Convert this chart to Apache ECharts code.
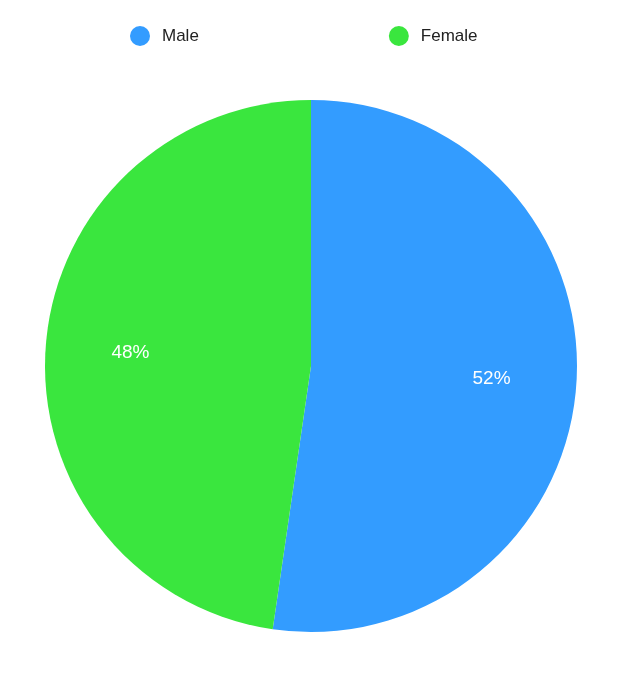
<!DOCTYPE html>
<html>
<head>
<meta charset="utf-8">
<script src="https://cdn.jsdelivr.net/npm/echarts@6/dist/echarts.min.js"></script>
<style>
  html, body { margin: 0; padding: 0; background: #fff; }
  #main { width: 617px; height: 673px; }
</style>
</head>
<body>
<div id="main"></div>
<script>
var names = ['Male', 'Female'];
var shares = [52.3, 47.7];
var colors = ['#339cff', '#3ae63e'];

var chartDom = document.getElementById('main');
var myChart = echarts.init(chartDom);

var pieData = names.map(function (n, i) {
  return { name: n, value: shares[i] };
});

var option = {
  color: colors,
  legend: {
    top: 21,
    left: 125,
    itemGap: 190,
    icon: 'circle',
    itemWidth: 20,
    itemHeight: 20,
    textStyle: {
      fontSize: 17,
      color: '#222',
      padding: [0, 0, 0, 7],
      fontFamily: 'Helvetica, Arial, sans-serif'
    },
    data: names
  },
  series: [
    {
      type: 'pie',
      center: [311, 366],
      radius: [0, 266],
      startAngle: 90,
      clockwise: true,
      silent: true,
      label: { show: false },
      labelLine: { show: false },
      data: pieData
    },
    {
      // transparent ring only used to place the labels at ~2/3 radius
      type: 'pie',
      center: [311, 366],
      radius: [90, 266],
      startAngle: 90,
      clockwise: true,
      silent: true,
      legendHoverLink: false,
      itemStyle: { color: 'rgba(0,0,0,0)' },
      label: {
        show: true,
        position: 'inside',
        formatter: function (p) { return Math.round(p.value) + '%'; },
        color: '#fff',
        fontSize: 19,
        fontFamily: 'Helvetica, Arial, sans-serif'
      },
      labelLine: { show: false },
      data: pieData
    }
  ]
};

myChart.setOption(option);
</script>
</body>
</html>
